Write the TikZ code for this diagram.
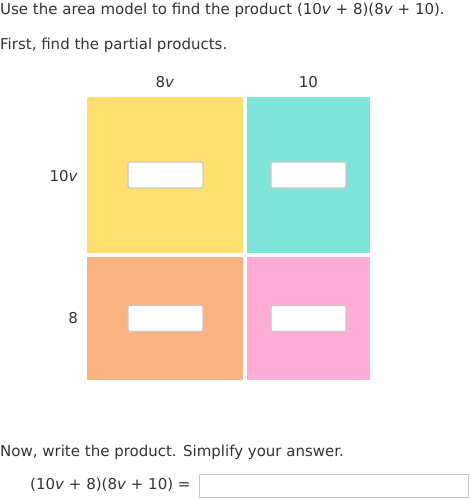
\documentclass[tikz,border=0pt]{standalone}
\usepackage{fontspec}
\setmainfont{DejaVu Sans}
\usepackage{tikz}
\usetikzlibrary{positioning}
\definecolor{sunny yellow}{RGB}{255,223,110}
\definecolor{sea teal}{RGB}{128,229,217}
\definecolor{peach orange}{RGB}{251,178,130}
\definecolor{candy pink}{RGB}{255,173,214}
\definecolor{box gray}{RGB}{200,200,200}
\definecolor{ink}{RGB}{51,51,51}

\begin{document}
\begin{tikzpicture}[x=1pt, y=-1pt,
		every node/.style = {text=ink, font=\fontsize{15}{18}\selectfont, inner sep=0pt},
		entrybox/.style = {draw=box gray, line width=1.2pt, fill=white, rounded corners=2pt,
			minimum width=75, minimum height=26}]
			\useasboundingbox (0, 0) rectangle (470, 499);
			% the question
			\node[anchor=base west] (ask) at (0, 14) {Use the area model to find the product (10\textit{v} + 8)(8\textit{v} + 10).};
			\node[anchor=base west] (first) at (0, 49) {First, find the partial products.};
			% the area model
			\begin{scope}
				\fill[sunny yellow] (87, 97) rectangle (243, 253);
				\fill[sea teal] (247, 97) rectangle (370, 253);
				\fill[peach orange] (87, 257) rectangle (243, 380);
				\fill[candy pink] (247, 257) rectangle (370, 380);
			\end{scope}
			% sides
			\node[anchor=base] (top left) at (165, 87) {8\textit{v}};
			\node[anchor=base] (top right) at (308.5, 87) {10};
			\node[anchor=base east] (side up) at (78, 181) {10\textit{v}};
			\node[anchor=base east] (side down) at (78, 323) {8};
			% entry boxes
			\node[entrybox] (box yellow) at (165.5, 175) {};
			\node[entrybox] (box teal) at (308.5, 175) {};
			\node[entrybox] (box orange) at (165.5, 318.5) {};
			\node[entrybox] (box pink) at (308.5, 318.5) {};
			% the answer
			\node[anchor=base west] (now) at (0, 456) {Now, write the product. Simplify your answer.};
			\node[anchor=base west] (product) at (30, 489) {(10\textit{v} + 8)(8\textit{v} + 10) =};
			\draw[box gray, line width=1pt] (199, 474.5) rectangle (468, 497.5);
		\end{tikzpicture}
\end{document}
